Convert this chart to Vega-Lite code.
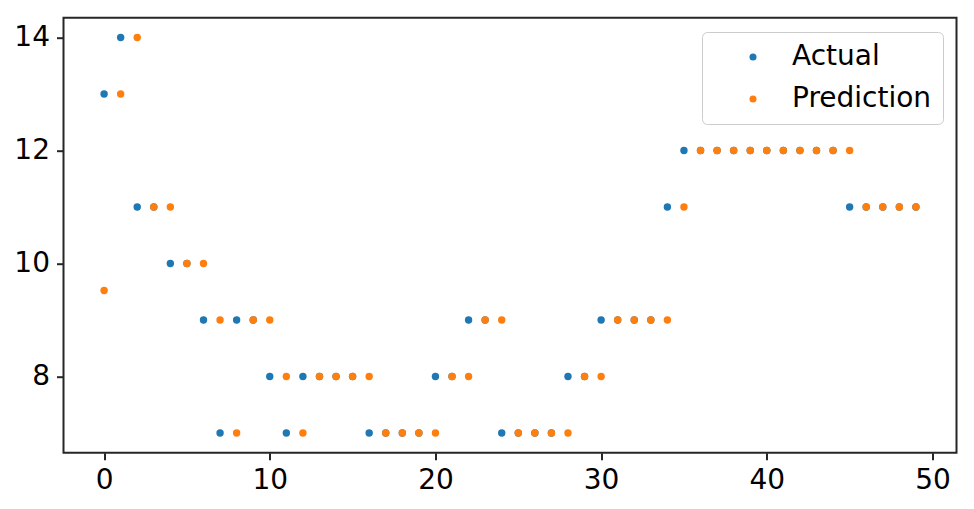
{
  "$schema": "https://vega.github.io/schema/vega-lite/v6.json",
  "autosize": {"type": "none"},
  "width": 893,
  "height": 435,
  "padding": {"left": 63.5, "top": 17.7, "right": 17.5, "bottom": 56.3},
  "background": "white",
  "config": {
    "view": {"stroke": "#262626", "strokeWidth": 2},
    "font": "DejaVu Sans",
    "axis": {
      "domain": false,
      "grid": false,
      "ticks": true,
      "tickColor": "#262626",
      "tickWidth": 2,
      "tickSize": 7,
      "labelFont": "DejaVu Sans",
      "labelFontSize": 28,
      "labelColor": "black",
      "labelPadding": 7,
      "title": null
    },
    "legend": {
      "labelFont": "DejaVu Sans",
      "labelFontSize": 28,
      "labelColor": "black"
    }
  },
  "data": {
    "values": [
      {"x":0,"y":13,"s":"Actual"},{"x":1,"y":14,"s":"Actual"},{"x":2,"y":11,"s":"Actual"},{"x":3,"y":11,"s":"Actual"},{"x":4,"y":10,"s":"Actual"},
      {"x":5,"y":10,"s":"Actual"},{"x":6,"y":9,"s":"Actual"},{"x":7,"y":7,"s":"Actual"},{"x":8,"y":9,"s":"Actual"},{"x":9,"y":9,"s":"Actual"},
      {"x":10,"y":8,"s":"Actual"},{"x":11,"y":7,"s":"Actual"},{"x":12,"y":8,"s":"Actual"},{"x":13,"y":8,"s":"Actual"},{"x":14,"y":8,"s":"Actual"},
      {"x":15,"y":8,"s":"Actual"},{"x":16,"y":7,"s":"Actual"},{"x":17,"y":7,"s":"Actual"},{"x":18,"y":7,"s":"Actual"},{"x":19,"y":7,"s":"Actual"},
      {"x":20,"y":8,"s":"Actual"},{"x":21,"y":8,"s":"Actual"},{"x":22,"y":9,"s":"Actual"},{"x":23,"y":9,"s":"Actual"},{"x":24,"y":7,"s":"Actual"},
      {"x":25,"y":7,"s":"Actual"},{"x":26,"y":7,"s":"Actual"},{"x":27,"y":7,"s":"Actual"},{"x":28,"y":8,"s":"Actual"},{"x":29,"y":8,"s":"Actual"},
      {"x":30,"y":9,"s":"Actual"},{"x":31,"y":9,"s":"Actual"},{"x":32,"y":9,"s":"Actual"},{"x":33,"y":9,"s":"Actual"},{"x":34,"y":11,"s":"Actual"},
      {"x":35,"y":12,"s":"Actual"},{"x":36,"y":12,"s":"Actual"},{"x":37,"y":12,"s":"Actual"},{"x":38,"y":12,"s":"Actual"},{"x":39,"y":12,"s":"Actual"},
      {"x":40,"y":12,"s":"Actual"},{"x":41,"y":12,"s":"Actual"},{"x":42,"y":12,"s":"Actual"},{"x":43,"y":12,"s":"Actual"},{"x":44,"y":12,"s":"Actual"},
      {"x":45,"y":11,"s":"Actual"},{"x":46,"y":11,"s":"Actual"},{"x":47,"y":11,"s":"Actual"},{"x":48,"y":11,"s":"Actual"},{"x":49,"y":11,"s":"Actual"},
      {"x":0,"y":9.52,"s":"Prediction"},{"x":1,"y":13,"s":"Prediction"},{"x":2,"y":14,"s":"Prediction"},{"x":3,"y":11,"s":"Prediction"},{"x":4,"y":11,"s":"Prediction"},
      {"x":5,"y":10,"s":"Prediction"},{"x":6,"y":10,"s":"Prediction"},{"x":7,"y":9,"s":"Prediction"},{"x":8,"y":7,"s":"Prediction"},{"x":9,"y":9,"s":"Prediction"},
      {"x":10,"y":9,"s":"Prediction"},{"x":11,"y":8,"s":"Prediction"},{"x":12,"y":7,"s":"Prediction"},{"x":13,"y":8,"s":"Prediction"},{"x":14,"y":8,"s":"Prediction"},
      {"x":15,"y":8,"s":"Prediction"},{"x":16,"y":8,"s":"Prediction"},{"x":17,"y":7,"s":"Prediction"},{"x":18,"y":7,"s":"Prediction"},{"x":19,"y":7,"s":"Prediction"},
      {"x":20,"y":7,"s":"Prediction"},{"x":21,"y":8,"s":"Prediction"},{"x":22,"y":8,"s":"Prediction"},{"x":23,"y":9,"s":"Prediction"},{"x":24,"y":9,"s":"Prediction"},
      {"x":25,"y":7,"s":"Prediction"},{"x":26,"y":7,"s":"Prediction"},{"x":27,"y":7,"s":"Prediction"},{"x":28,"y":7,"s":"Prediction"},{"x":29,"y":8,"s":"Prediction"},
      {"x":30,"y":8,"s":"Prediction"},{"x":31,"y":9,"s":"Prediction"},{"x":32,"y":9,"s":"Prediction"},{"x":33,"y":9,"s":"Prediction"},{"x":34,"y":9,"s":"Prediction"},
      {"x":35,"y":11,"s":"Prediction"},{"x":36,"y":12,"s":"Prediction"},{"x":37,"y":12,"s":"Prediction"},{"x":38,"y":12,"s":"Prediction"},{"x":39,"y":12,"s":"Prediction"},
      {"x":40,"y":12,"s":"Prediction"},{"x":41,"y":12,"s":"Prediction"},{"x":42,"y":12,"s":"Prediction"},{"x":43,"y":12,"s":"Prediction"},{"x":44,"y":12,"s":"Prediction"},
      {"x":45,"y":12,"s":"Prediction"},{"x":46,"y":11,"s":"Prediction"},{"x":47,"y":11,"s":"Prediction"},{"x":48,"y":11,"s":"Prediction"},{"x":49,"y":11,"s":"Prediction"}
    ]
  },
  "mark": {"type": "point", "filled": true, "size": 55, "opacity": 1, "strokeWidth": 0},
  "encoding": {
    "x": {
      "field": "x", "type": "quantitative",
      "scale": {"domain": [-2.45, 51.45], "nice": false, "zero": false},
      "axis": {"values": [0, 10, 20, 30, 40, 50], "format": "d"}
    },
    "y": {
      "field": "y", "type": "quantitative",
      "scale": {"domain": [6.65, 14.35], "nice": false, "zero": false},
      "axis": {"values": [8, 10, 12, 14], "format": "d"}
    },
    "color": {
      "field": "s", "type": "nominal",
      "scale": {"domain": ["Actual", "Prediction"], "range": ["#1f77b4", "#ff7f0e"]},
      "legend": {
        "title": null,
        "orient": "none",
        "legendX": 638.5,
        "legendY": 14.3,
        "padding": 11,
        "rowPadding": 14,
        "symbolType": "circle",
        "symbolSize": 50,
        "symbolStrokeWidth": 0,
        "symbolOffset": 26,
        "labelOffset": 25,
        "strokeColor": "#cccccc",
        "fillColor": "white",
        "cornerRadius": 5,
        "encode": {"legend": {"update": {"strokeWidth": {"value": 1.5}}}}
      }
    },
    "order": {"field": "s", "sort": "ascending"}
  }
}
